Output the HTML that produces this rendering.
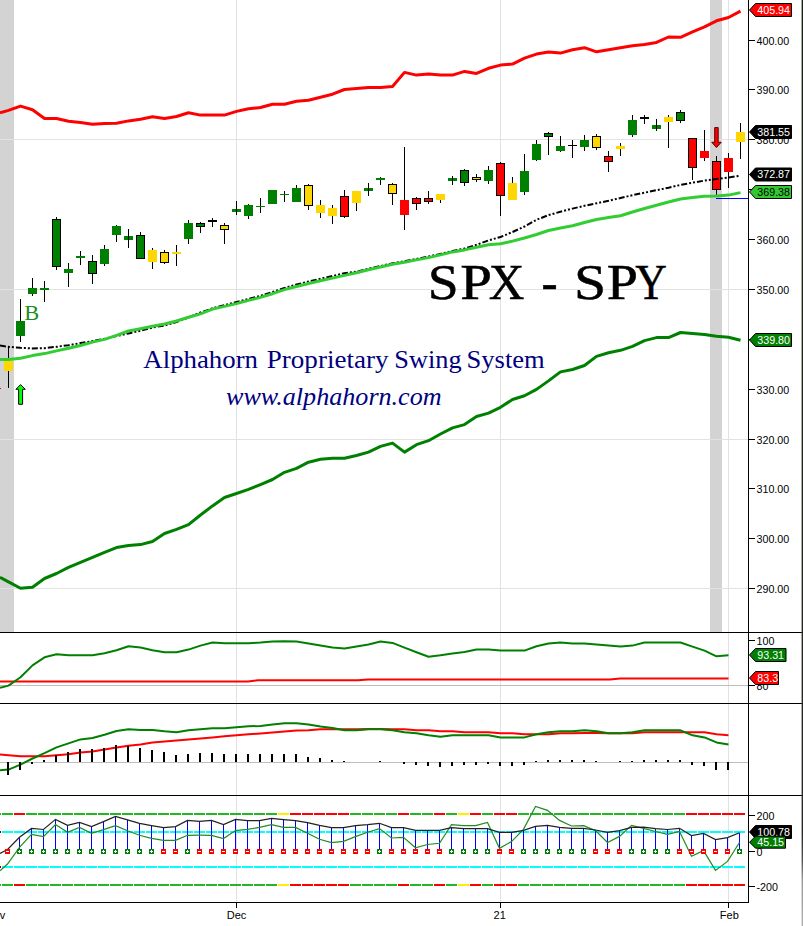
<!DOCTYPE html>
<html><head><meta charset="utf-8"><title>SPX - SPY</title>
<style>html,body{margin:0;padding:0;background:#fff;}body{width:803px;height:926px;overflow:hidden;font-family:"Liberation Sans",sans-serif;}</style></head>
<body>
<svg width="803" height="926" viewBox="0 0 803 926" style="display:block">
<rect x="0" y="0" width="803" height="926" fill="#fff"/>
<g shape-rendering="crispEdges">
<rect x="0" y="0" width="14" height="632" fill="#d3d3d3"/>
<rect x="710" y="0" width="12" height="632" fill="#d3d3d3"/>
<rect x="0" y="139" width="748" height="1" fill="#e2e2e2"/>
<rect x="0" y="289" width="748" height="1" fill="#e2e2e2"/>
<rect x="0" y="439" width="748" height="1" fill="#e2e2e2"/>
<rect x="0" y="588" width="748" height="1" fill="#e2e2e2"/>
<rect x="236" y="0" width="1" height="903" fill="#e2e2e2"/>
<rect x="500" y="0" width="1" height="903" fill="#e2e2e2"/>
<rect x="728" y="0" width="1" height="903" fill="#e2e2e2"/>
<rect x="0" y="685" width="748" height="1" fill="#bdbdbd"/>
<rect x="0" y="762" width="748" height="1" fill="#bdbdbd"/>
</g>
<g fill="none" stroke-linejoin="round" stroke-linecap="butt">
<polyline points="0.0,112.8 8.5,110.4 20.5,106.1 32.5,109.8 44.5,118.5 56.5,118.5 68.5,121.2 80.5,122.5 92.5,124.2 104.5,123.5 116.5,123.2 128.5,120.9 140.5,119.2 152.5,116.8 164.5,118.5 176.5,116.5 188.5,112.8 200.5,115.1 212.5,115.1 224.5,115.1 236.5,111.4 248.5,108.8 260.5,107.5 272.5,104.2 284.5,104.3 296.5,101.3 308.5,100.3 320.5,97.2 332.5,94.2 344.5,89.5 356.5,88.5 368.5,87.5 380.5,87.5 392.5,86.5 404.5,72.4 416.5,75.1 428.5,74.0 440.5,75.1 452.5,75.1 464.5,71.4 476.5,73.4 488.5,68.3 500.5,65.1 512.5,64.1 524.5,58.2 536.5,54.1 548.5,52.1 560.5,53.1 572.5,49.8 584.5,47.7 596.5,51.8 608.5,49.8 620.5,47.7 632.5,45.7 644.5,44.4 656.5,42.4 668.5,37.0 680.5,37.3 692.5,31.9 704.5,26.9 716.5,20.8 728.5,17.5 740.5,11.1" stroke="#ff0000" stroke-width="3"/>
<polyline points="0.0,577.2 8.5,581.9 20.5,588.3 32.5,587.3 44.5,578.5 56.5,573.5 68.5,567.4 80.5,562.4 92.5,557.4 104.5,552.3 116.5,547.6 128.5,545.6 140.5,544.6 152.5,541.5 164.5,533.5 176.5,529.4 188.5,524.7 200.5,515.0 212.5,505.9 224.5,497.5 236.5,493.5 248.5,489.4 260.5,484.6 272.5,479.5 284.5,472.3 296.5,468.3 308.5,462.2 320.5,459.2 332.5,458.2 344.5,458.2 356.5,455.5 368.5,452.1 380.5,446.4 392.5,443.1 404.5,452.1 416.5,444.7 428.5,440.7 440.5,434.0 452.5,427.9 464.5,424.6 476.5,416.5 488.5,413.1 500.5,407.3 512.5,399.5 524.5,395.8 536.5,389.4 548.5,380.9 560.5,371.9 572.5,369.5 584.5,365.5 596.5,356.4 608.5,352.7 620.5,350.3 632.5,346.3 644.5,340.6 656.5,337.6 668.5,337.6 680.5,332.5 692.5,333.5 704.5,334.5 716.5,336.2 728.5,337.2 740.5,340.3" stroke="#008000" stroke-width="3"/>
</g>
<g shape-rendering="crispEdges">
<rect x="8" y="347.0" width="1" height="41.0" fill="#000"/>
<rect x="4" y="361.0" width="9" height="10.0" fill="#ffd700"/>
<rect x="20" y="299.0" width="1" height="42.5" fill="#000"/>
<rect x="16" y="321.0" width="9" height="15.0" fill="#008000"/>
<rect x="32" y="278.0" width="1" height="18.0" fill="#000"/>
<rect x="28" y="288.0" width="9" height="5.5" fill="#008000"/>
<rect x="44" y="281.0" width="1" height="20.5" fill="#000"/>
<rect x="40" y="288.0" width="9" height="2" fill="#008000"/>
<rect x="56" y="217.0" width="1" height="52.5" fill="#000"/>
<rect x="52.5" y="219.3" width="8" height="46.7" fill="#008000" stroke="#000" stroke-width="1"/>
<rect x="68" y="263.0" width="1" height="23.7" fill="#000"/>
<rect x="64" y="269.0" width="9" height="4.0" fill="#008000"/>
<rect x="80" y="251.0" width="1" height="14.0" fill="#000"/>
<rect x="76" y="255.8" width="9" height="2" fill="#008000"/>
<rect x="92" y="255.3" width="1" height="28.4" fill="#000"/>
<rect x="88.5" y="261.8" width="8" height="11.4" fill="#008000" stroke="#000" stroke-width="1"/>
<rect x="104" y="245.0" width="1" height="21.0" fill="#000"/>
<rect x="100" y="249.0" width="9" height="14.8" fill="#008000"/>
<rect x="116" y="225.2" width="1" height="16.6" fill="#000"/>
<rect x="112" y="226.0" width="9" height="9.0" fill="#008000"/>
<rect x="128" y="229.0" width="1" height="18.8" fill="#000"/>
<rect x="124" y="236.4" width="9" height="3.2" fill="#008000"/>
<rect x="128" y="229.0" width="1" height="18.8" fill="#000"/>
<rect x="140" y="232.0" width="1" height="27.3" fill="#000"/>
<rect x="136.5" y="235.5" width="8" height="23.0" fill="#008000" stroke="#000" stroke-width="1"/>
<rect x="152" y="247.8" width="1" height="20.9" fill="#000"/>
<rect x="148" y="250.3" width="9" height="11.2" fill="#ffd700"/>
<rect x="164" y="249.8" width="1" height="14.2" fill="#000"/>
<rect x="160.5" y="252.3" width="8" height="10.2" fill="#ffd700" stroke="#000" stroke-width="1"/>
<rect x="176" y="245.0" width="1" height="20.8" fill="#000"/>
<rect x="172" y="251.8" width="9" height="2" fill="#ffd700"/>
<rect x="188" y="219.9" width="1" height="23.9" fill="#000"/>
<rect x="184" y="223.2" width="9" height="15.4" fill="#008000"/>
<rect x="200" y="222.0" width="1" height="10.6" fill="#000"/>
<rect x="196.5" y="223.5" width="8" height="3.0" fill="#008000" stroke="#000" stroke-width="1"/>
<rect x="212" y="217.7" width="1" height="8.9" fill="#000"/>
<rect x="208" y="220.2" width="9" height="2" fill="#000"/>
<rect x="224" y="223.4" width="1" height="20.4" fill="#000"/>
<rect x="220.5" y="225.9" width="8" height="3.2" fill="#ffd700" stroke="#000" stroke-width="1"/>
<rect x="236" y="201.0" width="1" height="13.7" fill="#000"/>
<rect x="232" y="209.0" width="9" height="2.7" fill="#008000"/>
<rect x="236" y="201.0" width="1" height="13.7" fill="#000"/>
<rect x="248" y="203.7" width="1" height="15.0" fill="#000"/>
<rect x="244" y="205.2" width="9" height="10.5" fill="#008000"/>
<rect x="260" y="197.7" width="1" height="15.2" fill="#000"/>
<rect x="256" y="205.7" width="9" height="1" fill="#008000"/>
<rect x="272" y="190.0" width="1" height="13.7" fill="#000"/>
<rect x="268" y="190.0" width="9" height="13.7" fill="#008000"/>
<rect x="284" y="190.5" width="1" height="11.0" fill="#000"/>
<rect x="280" y="194.3" width="9" height="1" fill="#008000"/>
<rect x="296" y="185.3" width="1" height="16.4" fill="#000"/>
<rect x="292" y="188.3" width="9" height="13.4" fill="#008000"/>
<rect x="308" y="184.0" width="1" height="25.8" fill="#000"/>
<rect x="304.5" y="185.5" width="8" height="20.0" fill="#ffd700" stroke="#000" stroke-width="1"/>
<rect x="320" y="200.0" width="1" height="17.8" fill="#000"/>
<rect x="316" y="205.0" width="9" height="8.0" fill="#ffd700"/>
<rect x="332" y="205.0" width="1" height="18.8" fill="#000"/>
<rect x="328" y="208.0" width="9" height="8.0" fill="#ffd700"/>
<rect x="344" y="190.0" width="1" height="28.0" fill="#000"/>
<rect x="340.5" y="196.5" width="8" height="20.0" fill="#ff0000" stroke="#000" stroke-width="1"/>
<rect x="356" y="191.0" width="1" height="19.8" fill="#000"/>
<rect x="352" y="191.0" width="9" height="12.0" fill="#ffd700"/>
<rect x="368" y="183.0" width="1" height="13.0" fill="#000"/>
<rect x="364" y="188.0" width="9" height="3.0" fill="#008000"/>
<rect x="368" y="183.0" width="1" height="13.0" fill="#000"/>
<rect x="380" y="176.8" width="1" height="8.0" fill="#000"/>
<rect x="376" y="177.8" width="9" height="2" fill="#008000"/>
<rect x="392" y="182.7" width="1" height="21.9" fill="#000"/>
<rect x="388.5" y="184.7" width="8" height="8.4" fill="#ffd700" stroke="#000" stroke-width="1"/>
<rect x="404" y="146.8" width="1" height="82.7" fill="#000"/>
<rect x="400" y="200.1" width="9" height="14.5" fill="#ff0000"/>
<rect x="416" y="197.0" width="1" height="12.6" fill="#000"/>
<rect x="412.5" y="198.5" width="8" height="5.2" fill="#ff0000" stroke="#000" stroke-width="1"/>
<rect x="428" y="191.2" width="1" height="12.4" fill="#000"/>
<rect x="424.5" y="198.7" width="8" height="2.6" fill="#ff0000" stroke="#000" stroke-width="1"/>
<rect x="440" y="194.1" width="1" height="8.5" fill="#000"/>
<rect x="436" y="194.1" width="9" height="5.5" fill="#ffd700"/>
<rect x="452" y="176.0" width="1" height="8.7" fill="#000"/>
<rect x="448" y="178.2" width="9" height="2.5" fill="#008000"/>
<rect x="452" y="176.0" width="1" height="8.7" fill="#000"/>
<rect x="464" y="169.0" width="1" height="16.7" fill="#000"/>
<rect x="460.5" y="170.5" width="8" height="11.8" fill="#008000" stroke="#000" stroke-width="1"/>
<rect x="476" y="174.0" width="1" height="7.7" fill="#000"/>
<rect x="472.5" y="177.5" width="8" height="2.0" fill="#ffd700" stroke="#000" stroke-width="1"/>
<rect x="488" y="166.3" width="1" height="17.4" fill="#000"/>
<rect x="484" y="170.2" width="9" height="10.5" fill="#008000"/>
<rect x="500" y="162.0" width="1" height="53.6" fill="#000"/>
<rect x="496.5" y="163.3" width="8" height="32.2" fill="#ff0000" stroke="#000" stroke-width="1"/>
<rect x="512" y="177.2" width="1" height="22.4" fill="#000"/>
<rect x="508" y="183.2" width="9" height="16.4" fill="#ffd700"/>
<rect x="524" y="154.0" width="1" height="40.6" fill="#000"/>
<rect x="520" y="171.2" width="9" height="20.5" fill="#008000"/>
<rect x="536" y="139.9" width="1" height="20.9" fill="#000"/>
<rect x="532" y="144.3" width="9" height="15.2" fill="#008000"/>
<rect x="548" y="131.9" width="1" height="22.9" fill="#000"/>
<rect x="544.5" y="133.6" width="8" height="2.5" fill="#008000" stroke="#000" stroke-width="1"/>
<rect x="560" y="136.4" width="1" height="15.4" fill="#000"/>
<rect x="556" y="146.3" width="9" height="4.3" fill="#008000"/>
<rect x="572" y="140.0" width="1" height="17.7" fill="#000"/>
<rect x="568" y="145.0" width="9" height="1" fill="#000"/>
<rect x="584" y="135.3" width="1" height="15.4" fill="#000"/>
<rect x="580" y="140.3" width="9" height="6.4" fill="#008000"/>
<rect x="596" y="133.5" width="1" height="16.2" fill="#000"/>
<rect x="592.5" y="136.5" width="8" height="10.7" fill="#ffd700" stroke="#000" stroke-width="1"/>
<rect x="608" y="151.0" width="1" height="20.7" fill="#000"/>
<rect x="604.5" y="156.7" width="8" height="5.0" fill="#ff0000" stroke="#000" stroke-width="1"/>
<rect x="620" y="142.8" width="1" height="12.9" fill="#000"/>
<rect x="616" y="145.7" width="9" height="3" fill="#ffd700"/>
<rect x="632" y="114.9" width="1" height="21.9" fill="#000"/>
<rect x="628" y="119.9" width="9" height="14.9" fill="#008000"/>
<rect x="644" y="114.9" width="1" height="8.9" fill="#000"/>
<rect x="640" y="117.1" width="9" height="2" fill="#000"/>
<rect x="656" y="119.1" width="1" height="11.7" fill="#000"/>
<rect x="652" y="125.1" width="9" height="3.7" fill="#008000"/>
<rect x="656" y="119.1" width="1" height="11.7" fill="#000"/>
<rect x="668" y="114.9" width="1" height="32.8" fill="#000"/>
<rect x="664" y="117.1" width="9" height="4.7" fill="#ffd700"/>
<rect x="680" y="109.9" width="1" height="12.9" fill="#000"/>
<rect x="676.5" y="112.6" width="8" height="7.5" fill="#008000" stroke="#000" stroke-width="1"/>
<rect x="692" y="138.3" width="1" height="41.3" fill="#000"/>
<rect x="688.5" y="138.8" width="8" height="28.7" fill="#ff0000" stroke="#000" stroke-width="1"/>
<rect x="704" y="129.8" width="1" height="30.9" fill="#000"/>
<rect x="700" y="151.2" width="9" height="6.8" fill="#ff0000"/>
<rect x="716" y="156.2" width="1" height="38.9" fill="#000"/>
<rect x="712.5" y="161.9" width="8" height="27.2" fill="#ff0000" stroke="#000" stroke-width="1"/>
<rect x="728" y="152.7" width="1" height="34.9" fill="#000"/>
<rect x="724" y="158.2" width="9" height="13.5" fill="#ff0000"/>
<rect x="740" y="122.8" width="1" height="35.9" fill="#000"/>
<rect x="736" y="132.1" width="9" height="9.7" fill="#ffd700"/>
</g>
<polyline points="0.0,345.5 8.5,346.8 20.5,347.8 32.5,348.5 44.5,348.2 56.5,346.8 68.5,345.2 80.5,343.1 92.5,341.1 104.5,338.8 116.5,336.1 128.5,333.4 140.5,330.7 152.5,327.5 164.5,325.5 176.5,322.0 188.5,317.5 200.5,312.5 212.5,308.3 224.5,305.0 236.5,302.0 248.5,298.8 260.5,295.8 272.5,292.0 284.5,288.0 296.5,284.5 308.5,281.5 320.5,278.8 332.5,276.0 344.5,273.2 356.5,271.7 368.5,268.7 380.5,266.0 392.5,263.3 404.5,261.3 416.5,258.9 428.5,256.6 440.5,253.9 452.5,251.0 464.5,248.5 476.5,244.8 488.5,240.4 500.5,237.0 512.5,232.0 524.5,226.5 536.5,219.8 548.5,215.1 560.5,211.7 572.5,208.6 584.5,205.8 596.5,203.3 608.5,200.8 620.5,198.0 632.5,195.2 644.5,192.7 656.5,190.2 668.5,187.7 680.5,184.9 692.5,182.7 704.5,180.6 716.5,179.0 728.5,177.5 740.5,175.6" fill="none" stroke="#000" stroke-width="2" stroke-dasharray="6 2 2 2 2 2"/>
<polyline points="0.0,359.6 8.5,359.6 20.5,358.3 32.5,355.6 44.5,353.6 56.5,350.9 68.5,348.2 80.5,345.5 92.5,342.1 104.5,339.4 116.5,335.4 128.5,331.0 140.5,328.7 152.5,326.3 164.5,324.0 176.5,321.0 188.5,317.3 200.5,313.9 212.5,309.1 224.5,306.4 236.5,303.6 248.5,300.4 260.5,297.4 272.5,293.7 284.5,289.6 296.5,286.5 308.5,283.5 320.5,280.8 332.5,278.1 344.5,275.4 356.5,272.7 368.5,269.7 380.5,267.0 392.5,264.3 404.5,262.3 416.5,259.9 428.5,257.6 440.5,254.9 452.5,251.9 464.5,249.9 476.5,247.2 488.5,244.8 500.5,243.8 512.5,241.1 524.5,238.0 536.5,234.5 548.5,230.5 560.5,228.0 572.5,225.7 584.5,222.5 596.5,219.5 608.5,217.5 620.5,215.7 632.5,212.0 644.5,208.5 656.5,205.3 668.5,202.0 680.5,199.0 692.5,197.6 704.5,196.3 716.5,196.1 728.5,195.1 740.5,192.6" fill="none" stroke="#32cd32" stroke-width="3" stroke-linejoin="round" stroke-linecap="butt"/>
<rect x="716" y="198" width="32" height="1" fill="#0000ff" shape-rendering="crispEdges"/>
<rect x="0" y="388" width="1" height="1" fill="#ff0000"/>
<path d="M20.6 384.6 L25.3 389.3 L22.6 389.3 L22.6 404.3 L18.6 404.3 L18.6 389.3 L15.9 389.3 Z" fill="#00ff00" stroke="#1a001a" stroke-width="1"/>
<path d="M716.5 147.6 L711.8 142.3 L714.7 142.3 L714.7 127.6 L718.2 127.6 L718.2 142.3 L721.2 142.3 Z" fill="#ff0000" stroke="#5a0000" stroke-width="1"/>
<text x="427.68" y="299.3" font-family="Liberation Serif, serif" font-style="normal" font-size="50" textLength="30.94" lengthAdjust="spacingAndGlyphs" fill="#000" stroke="#000" stroke-width="0.5">S</text>
<text x="460.24" y="299.3" font-family="Liberation Serif, serif" font-style="normal" font-size="50" textLength="31.73" lengthAdjust="spacingAndGlyphs" fill="#000" stroke="#000" stroke-width="0.5">P</text>
<text x="488.79" y="299.3" font-family="Liberation Serif, serif" font-style="normal" font-size="50" textLength="35.61" lengthAdjust="spacingAndGlyphs" fill="#000" stroke="#000" stroke-width="0.5">X</text>
<text x="541.61" y="299.3" font-family="Liberation Serif, serif" font-style="normal" font-size="50" textLength="16.10" lengthAdjust="spacingAndGlyphs" fill="#000" stroke="#000" stroke-width="0.5">-</text>
<text x="573.96" y="299.3" font-family="Liberation Serif, serif" font-style="normal" font-size="50" textLength="32.13" lengthAdjust="spacingAndGlyphs" fill="#000" stroke="#000" stroke-width="0.5">S</text>
<text x="606.81" y="299.3" font-family="Liberation Serif, serif" font-style="normal" font-size="50" textLength="31.21" lengthAdjust="spacingAndGlyphs" fill="#000" stroke="#000" stroke-width="0.5">P</text>
<text x="635.22" y="299.3" font-family="Liberation Serif, serif" font-style="normal" font-size="50" textLength="31.51" lengthAdjust="spacingAndGlyphs" fill="#000" stroke="#000" stroke-width="0.5">Y</text>
<text x="143.36" y="368.3" font-family="Liberation Serif, serif" font-style="normal" font-size="25.5" textLength="114.63" lengthAdjust="spacingAndGlyphs" fill="#000080" >Alphahorn</text>
<text x="266.78" y="368.3" font-family="Liberation Serif, serif" font-style="normal" font-size="25.5" textLength="121.77" lengthAdjust="spacingAndGlyphs" fill="#000080" >Proprietary</text>
<text x="394.34" y="368.3" font-family="Liberation Serif, serif" font-style="normal" font-size="25.5" textLength="67.25" lengthAdjust="spacingAndGlyphs" fill="#000080" >Swing</text>
<text x="466.56" y="368.3" font-family="Liberation Serif, serif" font-style="normal" font-size="25.5" textLength="78.15" lengthAdjust="spacingAndGlyphs" fill="#000080" >System</text>
<text x="225.98" y="404.8" font-family="Liberation Serif, serif" font-style="italic" font-size="25.5" textLength="215.65" lengthAdjust="spacingAndGlyphs" fill="#000080" >www.alphahorn.com</text>
<text x="24.3" y="320" font-family="Liberation Serif, serif" font-size="21" fill="#1e8c1e" id="t4" textLength="15" lengthAdjust="spacingAndGlyphs">B</text>
<g fill="none" stroke-linejoin="round">
<polyline points="0,681.5 248,681.5 258,680.3 358,680.3 368,679.5 610,679.5 620,678.5 728.5,678.5" stroke="#ff0000" stroke-width="2"/>
<polyline points="0.0,687.9 8.5,685.6 20.5,677.2 32.5,665.4 44.5,657.3 56.5,654.3 68.5,655.3 80.5,655.3 92.5,655.3 104.5,653.3 116.5,650.3 128.5,646.2 140.5,647.6 152.5,650.3 164.5,652.3 176.5,652.3 188.5,649.6 200.5,645.6 212.5,642.5 224.5,643.2 236.5,643.2 248.5,643.2 260.5,642.5 272.5,641.5 284.5,641.2 296.5,641.5 308.5,643.5 320.5,645.6 332.5,647.6 344.5,648.6 356.5,646.6 368.5,644.5 380.5,641.5 392.5,642.9 404.5,647.6 416.5,652.3 428.5,656.7 440.5,655.3 452.5,653.6 464.5,651.9 476.5,649.6 488.5,649.6 500.5,650.6 512.5,650.6 524.5,650.6 536.5,646.2 548.5,643.5 560.5,642.5 572.5,643.5 584.5,643.5 596.5,644.5 608.5,645.6 620.5,646.6 632.5,645.6 644.5,642.5 656.5,642.5 668.5,642.5 680.5,642.5 692.5,646.6 704.5,650.6 716.5,656.3 728.5,655.3" stroke="#008000" stroke-width="2"/>
<polyline points="0.0,754.5 8.5,755.2 20.5,756.2 32.5,756.2 44.5,756.2 56.5,755.2 68.5,754.2 80.5,752.5 92.5,751.5 104.5,749.5 116.5,747.4 128.5,745.8 140.5,744.4 152.5,742.4 164.5,741.4 176.5,740.4 188.5,739.4 200.5,738.4 212.5,737.4 224.5,736.3 236.5,735.3 248.5,734.3 260.5,733.5 272.5,732.5 284.5,731.6 296.5,730.6 308.5,730.3 320.5,729.3 332.5,729.3 344.5,729.3 356.5,729.3 368.5,728.9 380.5,728.9 392.5,729.3 404.5,729.3 416.5,730.3 428.5,730.3 440.5,731.3 452.5,731.3 464.5,732.3 476.5,732.3 488.5,732.3 500.5,733.3 512.5,733.3 524.5,734.3 536.5,734.3 548.5,734.3 560.5,733.3 572.5,733.3 584.5,733.0 596.5,733.0 608.5,733.3 620.5,733.3 632.5,733.3 644.5,732.3 656.5,732.3 668.5,732.3 680.5,732.3 692.5,732.3 704.5,732.3 716.5,734.3 728.5,735.3" stroke="#ff0000" stroke-width="2"/>
<polyline points="0.0,770.3 8.5,769.6 20.5,764.6 32.5,758.5 44.5,753.2 56.5,747.4 68.5,743.4 80.5,739.4 92.5,738.0 104.5,734.7 116.5,731.0 128.5,729.3 140.5,730.0 152.5,730.0 164.5,731.3 176.5,732.3 188.5,730.3 200.5,729.3 212.5,728.3 224.5,728.3 236.5,727.3 248.5,726.3 260.5,726.0 272.5,724.6 284.5,723.2 296.5,723.2 308.5,724.6 320.5,726.6 332.5,727.9 344.5,730.3 356.5,730.3 368.5,729.3 380.5,729.3 392.5,730.3 404.5,732.3 416.5,733.3 428.5,735.3 440.5,736.7 452.5,735.3 464.5,735.3 476.5,735.3 488.5,735.3 500.5,737.4 512.5,737.4 524.5,737.4 536.5,734.3 548.5,732.3 560.5,731.3 572.5,731.3 584.5,730.3 596.5,731.3 608.5,733.3 620.5,733.3 632.5,732.3 644.5,730.3 656.5,730.3 668.5,730.3 680.5,730.3 692.5,735.3 704.5,737.4 716.5,742.4 728.5,744.4" stroke="#008000" stroke-width="2"/>
</g>
<g shape-rendering="crispEdges" fill="#000">
<rect x="7" y="762.2" width="2" height="13.1"/>
<rect x="19" y="762.2" width="2" height="7.4"/>
<rect x="31" y="762.2" width="2" height="1.7"/>
<rect x="43" y="759.5" width="2" height="2.7"/>
<rect x="55" y="754.5" width="2" height="7.7"/>
<rect x="67" y="752.1" width="2" height="10.1"/>
<rect x="79" y="749.1" width="2" height="13.1"/>
<rect x="91" y="749.1" width="2" height="13.1"/>
<rect x="103" y="748.1" width="2" height="14.1"/>
<rect x="115" y="745.4" width="2" height="16.8"/>
<rect x="127" y="746.1" width="2" height="16.1"/>
<rect x="139" y="748.1" width="2" height="14.1"/>
<rect x="151" y="749.5" width="2" height="12.7"/>
<rect x="163" y="752.1" width="2" height="10.1"/>
<rect x="175" y="754.5" width="2" height="7.7"/>
<rect x="187" y="753.5" width="2" height="8.7"/>
<rect x="199" y="753.2" width="2" height="9.0"/>
<rect x="211" y="753.2" width="2" height="9.0"/>
<rect x="223" y="754.2" width="2" height="8.0"/>
<rect x="235" y="754.2" width="2" height="8.0"/>
<rect x="247" y="754.2" width="2" height="8.0"/>
<rect x="259" y="754.2" width="2" height="8.0"/>
<rect x="271" y="754.2" width="2" height="8.0"/>
<rect x="283" y="754.2" width="2" height="8.0"/>
<rect x="295" y="754.2" width="2" height="8.0"/>
<rect x="307" y="757.2" width="2" height="5.0"/>
<rect x="319" y="758.2" width="2" height="4.0"/>
<rect x="331" y="760.2" width="2" height="2.0"/>
<rect x="343" y="761.4" width="2" height="1.0"/>
<rect x="379" y="761.2" width="2" height="1.0"/>
<rect x="403" y="762.2" width="2" height="1.7"/>
<rect x="415" y="762.2" width="2" height="2.7"/>
<rect x="427" y="762.2" width="2" height="3.4"/>
<rect x="439" y="762.2" width="2" height="4.7"/>
<rect x="451" y="762.2" width="2" height="3.4"/>
<rect x="463" y="762.2" width="2" height="2.7"/>
<rect x="475" y="762.2" width="2" height="2.4"/>
<rect x="487" y="762.2" width="2" height="1.7"/>
<rect x="499" y="762.2" width="2" height="3.4"/>
<rect x="511" y="762.2" width="2" height="3.4"/>
<rect x="523" y="762.2" width="2" height="2.4"/>
<rect x="535" y="761.4" width="2" height="1.0"/>
<rect x="547" y="760.2" width="2" height="2.0"/>
<rect x="559" y="760.2" width="2" height="2.0"/>
<rect x="571" y="760.2" width="2" height="2.0"/>
<rect x="583" y="760.2" width="2" height="2.0"/>
<rect x="595" y="760.5" width="2" height="1.7"/>
<rect x="619" y="761.4" width="2" height="1.0"/>
<rect x="631" y="760.9" width="2" height="1.3"/>
<rect x="643" y="760.2" width="2" height="2.0"/>
<rect x="655" y="760.2" width="2" height="2.0"/>
<rect x="667" y="760.2" width="2" height="2.0"/>
<rect x="679" y="760.2" width="2" height="2.0"/>
<rect x="691" y="762.2" width="2" height="2.4"/>
<rect x="703" y="762.2" width="2" height="3.4"/>
<rect x="715" y="762.2" width="2" height="8.1"/>
<rect x="727" y="762.2" width="2" height="8.1"/>
</g>
<g shape-rendering="crispEdges">
<rect x="-10" y="813" width="11" height="2" fill="#22b822"/>
<rect x="-10" y="884" width="11" height="2" fill="#22b822"/>
<rect x="-10" y="831" width="11" height="2" fill="#800000"/>
<rect x="-10" y="866" width="11" height="2" fill="#800000"/>
<rect x="2" y="813" width="11" height="2" fill="#22b822"/>
<rect x="2" y="884" width="11" height="2" fill="#22b822"/>
<rect x="2" y="831" width="11" height="2" fill="#00ffff"/>
<rect x="2" y="866" width="11" height="2" fill="#00ffff"/>
<rect x="14" y="813" width="11" height="2" fill="#ff0000"/>
<rect x="14" y="884" width="11" height="2" fill="#ff0000"/>
<rect x="14" y="831" width="11" height="2" fill="#00ffff"/>
<rect x="14" y="866" width="11" height="2" fill="#00ffff"/>
<rect x="26" y="813" width="11" height="2" fill="#22b822"/>
<rect x="26" y="884" width="11" height="2" fill="#22b822"/>
<rect x="26" y="831" width="11" height="2" fill="#00ffff"/>
<rect x="26" y="866" width="11" height="2" fill="#00ffff"/>
<rect x="38" y="813" width="11" height="2" fill="#22b822"/>
<rect x="38" y="884" width="11" height="2" fill="#22b822"/>
<rect x="38" y="831" width="11" height="2" fill="#00ffff"/>
<rect x="38" y="866" width="11" height="2" fill="#00ffff"/>
<rect x="50" y="813" width="11" height="2" fill="#22b822"/>
<rect x="50" y="884" width="11" height="2" fill="#22b822"/>
<rect x="50" y="831" width="11" height="2" fill="#00ffff"/>
<rect x="50" y="866" width="11" height="2" fill="#00ffff"/>
<rect x="62" y="813" width="11" height="2" fill="#22b822"/>
<rect x="62" y="884" width="11" height="2" fill="#22b822"/>
<rect x="62" y="831" width="11" height="2" fill="#00ffff"/>
<rect x="62" y="866" width="11" height="2" fill="#00ffff"/>
<rect x="74" y="813" width="11" height="2" fill="#22b822"/>
<rect x="74" y="884" width="11" height="2" fill="#22b822"/>
<rect x="74" y="831" width="11" height="2" fill="#00ffff"/>
<rect x="74" y="866" width="11" height="2" fill="#00ffff"/>
<rect x="86" y="813" width="11" height="2" fill="#22b822"/>
<rect x="86" y="884" width="11" height="2" fill="#22b822"/>
<rect x="86" y="831" width="11" height="2" fill="#00ffff"/>
<rect x="86" y="866" width="11" height="2" fill="#00ffff"/>
<rect x="98" y="813" width="11" height="2" fill="#22b822"/>
<rect x="98" y="884" width="11" height="2" fill="#22b822"/>
<rect x="98" y="831" width="11" height="2" fill="#00ffff"/>
<rect x="98" y="866" width="11" height="2" fill="#00ffff"/>
<rect x="110" y="813" width="11" height="2" fill="#22b822"/>
<rect x="110" y="884" width="11" height="2" fill="#22b822"/>
<rect x="110" y="831" width="11" height="2" fill="#00ffff"/>
<rect x="110" y="866" width="11" height="2" fill="#00ffff"/>
<rect x="122" y="813" width="11" height="2" fill="#22b822"/>
<rect x="122" y="884" width="11" height="2" fill="#22b822"/>
<rect x="122" y="831" width="11" height="2" fill="#00ffff"/>
<rect x="122" y="866" width="11" height="2" fill="#00ffff"/>
<rect x="134" y="813" width="11" height="2" fill="#22b822"/>
<rect x="134" y="884" width="11" height="2" fill="#22b822"/>
<rect x="134" y="831" width="11" height="2" fill="#00ffff"/>
<rect x="134" y="866" width="11" height="2" fill="#00ffff"/>
<rect x="146" y="813" width="11" height="2" fill="#22b822"/>
<rect x="146" y="884" width="11" height="2" fill="#22b822"/>
<rect x="146" y="831" width="11" height="2" fill="#00ffff"/>
<rect x="146" y="866" width="11" height="2" fill="#00ffff"/>
<rect x="158" y="813" width="11" height="2" fill="#22b822"/>
<rect x="158" y="884" width="11" height="2" fill="#22b822"/>
<rect x="158" y="831" width="11" height="2" fill="#00ffff"/>
<rect x="158" y="866" width="11" height="2" fill="#00ffff"/>
<rect x="170" y="813" width="11" height="2" fill="#22b822"/>
<rect x="170" y="884" width="11" height="2" fill="#22b822"/>
<rect x="170" y="831" width="11" height="2" fill="#00ffff"/>
<rect x="170" y="866" width="11" height="2" fill="#00ffff"/>
<rect x="182" y="813" width="11" height="2" fill="#22b822"/>
<rect x="182" y="884" width="11" height="2" fill="#22b822"/>
<rect x="182" y="831" width="11" height="2" fill="#00ffff"/>
<rect x="182" y="866" width="11" height="2" fill="#00ffff"/>
<rect x="194" y="813" width="11" height="2" fill="#22b822"/>
<rect x="194" y="884" width="11" height="2" fill="#22b822"/>
<rect x="194" y="831" width="11" height="2" fill="#00ffff"/>
<rect x="194" y="866" width="11" height="2" fill="#00ffff"/>
<rect x="206" y="813" width="11" height="2" fill="#22b822"/>
<rect x="206" y="884" width="11" height="2" fill="#22b822"/>
<rect x="206" y="831" width="11" height="2" fill="#00ffff"/>
<rect x="206" y="866" width="11" height="2" fill="#00ffff"/>
<rect x="218" y="813" width="11" height="2" fill="#22b822"/>
<rect x="218" y="884" width="11" height="2" fill="#22b822"/>
<rect x="218" y="831" width="11" height="2" fill="#00ffff"/>
<rect x="218" y="866" width="11" height="2" fill="#00ffff"/>
<rect x="230" y="813" width="11" height="2" fill="#22b822"/>
<rect x="230" y="884" width="11" height="2" fill="#22b822"/>
<rect x="230" y="831" width="11" height="2" fill="#00ffff"/>
<rect x="230" y="866" width="11" height="2" fill="#00ffff"/>
<rect x="242" y="813" width="11" height="2" fill="#22b822"/>
<rect x="242" y="884" width="11" height="2" fill="#22b822"/>
<rect x="242" y="831" width="11" height="2" fill="#00ffff"/>
<rect x="242" y="866" width="11" height="2" fill="#00ffff"/>
<rect x="254" y="813" width="11" height="2" fill="#22b822"/>
<rect x="254" y="884" width="11" height="2" fill="#22b822"/>
<rect x="254" y="831" width="11" height="2" fill="#00ffff"/>
<rect x="254" y="866" width="11" height="2" fill="#00ffff"/>
<rect x="266" y="813" width="11" height="2" fill="#22b822"/>
<rect x="266" y="884" width="11" height="2" fill="#22b822"/>
<rect x="266" y="831" width="11" height="2" fill="#00ffff"/>
<rect x="266" y="866" width="11" height="2" fill="#00ffff"/>
<rect x="278" y="813" width="11" height="2" fill="#fff000"/>
<rect x="278" y="884" width="11" height="2" fill="#fff000"/>
<rect x="278" y="831" width="11" height="2" fill="#00ffff"/>
<rect x="278" y="866" width="11" height="2" fill="#00ffff"/>
<rect x="290" y="813" width="11" height="2" fill="#ff0000"/>
<rect x="290" y="884" width="11" height="2" fill="#ff0000"/>
<rect x="290" y="831" width="11" height="2" fill="#00ffff"/>
<rect x="290" y="866" width="11" height="2" fill="#00ffff"/>
<rect x="302" y="813" width="11" height="2" fill="#ff0000"/>
<rect x="302" y="884" width="11" height="2" fill="#ff0000"/>
<rect x="302" y="831" width="11" height="2" fill="#00ffff"/>
<rect x="302" y="866" width="11" height="2" fill="#00ffff"/>
<rect x="314" y="813" width="11" height="2" fill="#ff0000"/>
<rect x="314" y="884" width="11" height="2" fill="#ff0000"/>
<rect x="314" y="831" width="11" height="2" fill="#00ffff"/>
<rect x="314" y="866" width="11" height="2" fill="#00ffff"/>
<rect x="326" y="813" width="11" height="2" fill="#ff0000"/>
<rect x="326" y="884" width="11" height="2" fill="#ff0000"/>
<rect x="326" y="831" width="11" height="2" fill="#00ffff"/>
<rect x="326" y="866" width="11" height="2" fill="#00ffff"/>
<rect x="338" y="813" width="11" height="2" fill="#ff0000"/>
<rect x="338" y="884" width="11" height="2" fill="#ff0000"/>
<rect x="338" y="831" width="11" height="2" fill="#00ffff"/>
<rect x="338" y="866" width="11" height="2" fill="#00ffff"/>
<rect x="350" y="813" width="11" height="2" fill="#22b822"/>
<rect x="350" y="884" width="11" height="2" fill="#22b822"/>
<rect x="350" y="831" width="11" height="2" fill="#00ffff"/>
<rect x="350" y="866" width="11" height="2" fill="#00ffff"/>
<rect x="362" y="813" width="11" height="2" fill="#22b822"/>
<rect x="362" y="884" width="11" height="2" fill="#22b822"/>
<rect x="362" y="831" width="11" height="2" fill="#00ffff"/>
<rect x="362" y="866" width="11" height="2" fill="#00ffff"/>
<rect x="374" y="813" width="11" height="2" fill="#22b822"/>
<rect x="374" y="884" width="11" height="2" fill="#22b822"/>
<rect x="374" y="831" width="11" height="2" fill="#00ffff"/>
<rect x="374" y="866" width="11" height="2" fill="#00ffff"/>
<rect x="386" y="813" width="11" height="2" fill="#22b822"/>
<rect x="386" y="884" width="11" height="2" fill="#22b822"/>
<rect x="386" y="831" width="11" height="2" fill="#00ffff"/>
<rect x="386" y="866" width="11" height="2" fill="#00ffff"/>
<rect x="398" y="813" width="11" height="2" fill="#ff0000"/>
<rect x="398" y="884" width="11" height="2" fill="#ff0000"/>
<rect x="398" y="831" width="11" height="2" fill="#00ffff"/>
<rect x="398" y="866" width="11" height="2" fill="#00ffff"/>
<rect x="410" y="813" width="11" height="2" fill="#22b822"/>
<rect x="410" y="884" width="11" height="2" fill="#22b822"/>
<rect x="410" y="831" width="11" height="2" fill="#00ffff"/>
<rect x="410" y="866" width="11" height="2" fill="#00ffff"/>
<rect x="422" y="813" width="11" height="2" fill="#22b822"/>
<rect x="422" y="884" width="11" height="2" fill="#22b822"/>
<rect x="422" y="831" width="11" height="2" fill="#00ffff"/>
<rect x="422" y="866" width="11" height="2" fill="#00ffff"/>
<rect x="434" y="813" width="11" height="2" fill="#ff0000"/>
<rect x="434" y="884" width="11" height="2" fill="#ff0000"/>
<rect x="434" y="831" width="11" height="2" fill="#00ffff"/>
<rect x="434" y="866" width="11" height="2" fill="#00ffff"/>
<rect x="446" y="813" width="11" height="2" fill="#22b822"/>
<rect x="446" y="884" width="11" height="2" fill="#22b822"/>
<rect x="446" y="831" width="11" height="2" fill="#00ffff"/>
<rect x="446" y="866" width="11" height="2" fill="#00ffff"/>
<rect x="458" y="813" width="11" height="2" fill="#fff000"/>
<rect x="458" y="884" width="11" height="2" fill="#fff000"/>
<rect x="458" y="831" width="11" height="2" fill="#00ffff"/>
<rect x="458" y="866" width="11" height="2" fill="#00ffff"/>
<rect x="470" y="813" width="11" height="2" fill="#ff0000"/>
<rect x="470" y="884" width="11" height="2" fill="#ff0000"/>
<rect x="470" y="831" width="11" height="2" fill="#00ffff"/>
<rect x="470" y="866" width="11" height="2" fill="#00ffff"/>
<rect x="482" y="813" width="11" height="2" fill="#22b822"/>
<rect x="482" y="884" width="11" height="2" fill="#22b822"/>
<rect x="482" y="831" width="11" height="2" fill="#00ffff"/>
<rect x="482" y="866" width="11" height="2" fill="#00ffff"/>
<rect x="494" y="813" width="11" height="2" fill="#ff0000"/>
<rect x="494" y="884" width="11" height="2" fill="#ff0000"/>
<rect x="494" y="831" width="11" height="2" fill="#00ffff"/>
<rect x="494" y="866" width="11" height="2" fill="#00ffff"/>
<rect x="506" y="813" width="11" height="2" fill="#ff0000"/>
<rect x="506" y="884" width="11" height="2" fill="#ff0000"/>
<rect x="506" y="831" width="11" height="2" fill="#00ffff"/>
<rect x="506" y="866" width="11" height="2" fill="#00ffff"/>
<rect x="518" y="813" width="11" height="2" fill="#22b822"/>
<rect x="518" y="884" width="11" height="2" fill="#22b822"/>
<rect x="518" y="831" width="11" height="2" fill="#00ffff"/>
<rect x="518" y="866" width="11" height="2" fill="#00ffff"/>
<rect x="530" y="813" width="11" height="2" fill="#22b822"/>
<rect x="530" y="884" width="11" height="2" fill="#22b822"/>
<rect x="530" y="831" width="11" height="2" fill="#00ffff"/>
<rect x="530" y="866" width="11" height="2" fill="#00ffff"/>
<rect x="542" y="813" width="11" height="2" fill="#22b822"/>
<rect x="542" y="884" width="11" height="2" fill="#22b822"/>
<rect x="542" y="831" width="11" height="2" fill="#00ffff"/>
<rect x="542" y="866" width="11" height="2" fill="#00ffff"/>
<rect x="554" y="813" width="11" height="2" fill="#22b822"/>
<rect x="554" y="884" width="11" height="2" fill="#22b822"/>
<rect x="554" y="831" width="11" height="2" fill="#00ffff"/>
<rect x="554" y="866" width="11" height="2" fill="#00ffff"/>
<rect x="566" y="813" width="11" height="2" fill="#22b822"/>
<rect x="566" y="884" width="11" height="2" fill="#22b822"/>
<rect x="566" y="831" width="11" height="2" fill="#00ffff"/>
<rect x="566" y="866" width="11" height="2" fill="#00ffff"/>
<rect x="578" y="813" width="11" height="2" fill="#22b822"/>
<rect x="578" y="884" width="11" height="2" fill="#22b822"/>
<rect x="578" y="831" width="11" height="2" fill="#00ffff"/>
<rect x="578" y="866" width="11" height="2" fill="#00ffff"/>
<rect x="590" y="813" width="11" height="2" fill="#22b822"/>
<rect x="590" y="884" width="11" height="2" fill="#22b822"/>
<rect x="590" y="831" width="11" height="2" fill="#00ffff"/>
<rect x="590" y="866" width="11" height="2" fill="#00ffff"/>
<rect x="602" y="813" width="11" height="2" fill="#22b822"/>
<rect x="602" y="884" width="11" height="2" fill="#22b822"/>
<rect x="602" y="831" width="11" height="2" fill="#00ffff"/>
<rect x="602" y="866" width="11" height="2" fill="#00ffff"/>
<rect x="614" y="813" width="11" height="2" fill="#22b822"/>
<rect x="614" y="884" width="11" height="2" fill="#22b822"/>
<rect x="614" y="831" width="11" height="2" fill="#00ffff"/>
<rect x="614" y="866" width="11" height="2" fill="#00ffff"/>
<rect x="626" y="813" width="11" height="2" fill="#22b822"/>
<rect x="626" y="884" width="11" height="2" fill="#22b822"/>
<rect x="626" y="831" width="11" height="2" fill="#00ffff"/>
<rect x="626" y="866" width="11" height="2" fill="#00ffff"/>
<rect x="638" y="813" width="11" height="2" fill="#22b822"/>
<rect x="638" y="884" width="11" height="2" fill="#22b822"/>
<rect x="638" y="831" width="11" height="2" fill="#00ffff"/>
<rect x="638" y="866" width="11" height="2" fill="#00ffff"/>
<rect x="650" y="813" width="11" height="2" fill="#22b822"/>
<rect x="650" y="884" width="11" height="2" fill="#22b822"/>
<rect x="650" y="831" width="11" height="2" fill="#00ffff"/>
<rect x="650" y="866" width="11" height="2" fill="#00ffff"/>
<rect x="662" y="813" width="11" height="2" fill="#22b822"/>
<rect x="662" y="884" width="11" height="2" fill="#22b822"/>
<rect x="662" y="831" width="11" height="2" fill="#00ffff"/>
<rect x="662" y="866" width="11" height="2" fill="#00ffff"/>
<rect x="674" y="813" width="11" height="2" fill="#22b822"/>
<rect x="674" y="884" width="11" height="2" fill="#22b822"/>
<rect x="674" y="831" width="11" height="2" fill="#00ffff"/>
<rect x="674" y="866" width="11" height="2" fill="#00ffff"/>
<rect x="686" y="813" width="11" height="2" fill="#ff0000"/>
<rect x="686" y="884" width="11" height="2" fill="#ff0000"/>
<rect x="686" y="831" width="11" height="2" fill="#00ffff"/>
<rect x="686" y="866" width="11" height="2" fill="#00ffff"/>
<rect x="698" y="813" width="11" height="2" fill="#ff0000"/>
<rect x="698" y="884" width="11" height="2" fill="#ff0000"/>
<rect x="698" y="831" width="11" height="2" fill="#00ffff"/>
<rect x="698" y="866" width="11" height="2" fill="#00ffff"/>
<rect x="710" y="813" width="11" height="2" fill="#ff0000"/>
<rect x="710" y="884" width="11" height="2" fill="#ff0000"/>
<rect x="710" y="831" width="11" height="2" fill="#00ffff"/>
<rect x="710" y="866" width="11" height="2" fill="#00ffff"/>
<rect x="722" y="813" width="11" height="2" fill="#ff0000"/>
<rect x="722" y="884" width="11" height="2" fill="#ff0000"/>
<rect x="722" y="831" width="11" height="2" fill="#00ffff"/>
<rect x="722" y="866" width="11" height="2" fill="#00ffff"/>
<rect x="734" y="813" width="11" height="2" fill="#ff0000"/>
<rect x="734" y="884" width="11" height="2" fill="#ff0000"/>
<rect x="734" y="831" width="11" height="2" fill="#00ffff"/>
<rect x="734" y="866" width="11" height="2" fill="#00ffff"/>
<rect x="19" y="837.3" width="1" height="13.7" fill="#0000ff"/>
<rect x="31" y="828.4" width="1" height="22.6" fill="#0000ff"/>
<rect x="43" y="829.5" width="1" height="21.5" fill="#0000ff"/>
<rect x="55" y="819.4" width="1" height="31.6" fill="#0000ff"/>
<rect x="67" y="825.4" width="1" height="25.6" fill="#0000ff"/>
<rect x="79" y="822.4" width="1" height="28.6" fill="#0000ff"/>
<rect x="91" y="826.6" width="1" height="24.4" fill="#0000ff"/>
<rect x="103" y="821.6" width="1" height="29.4" fill="#0000ff"/>
<rect x="115" y="816.4" width="1" height="34.6" fill="#0000ff"/>
<rect x="127" y="819.9" width="1" height="31.1" fill="#0000ff"/>
<rect x="139" y="823.4" width="1" height="27.6" fill="#0000ff"/>
<rect x="151" y="825.6" width="1" height="25.4" fill="#0000ff"/>
<rect x="163" y="827.6" width="1" height="23.4" fill="#0000ff"/>
<rect x="175" y="826.6" width="1" height="24.4" fill="#0000ff"/>
<rect x="187" y="820.4" width="1" height="30.6" fill="#0000ff"/>
<rect x="199" y="821.4" width="1" height="29.6" fill="#0000ff"/>
<rect x="211" y="820.4" width="1" height="30.6" fill="#0000ff"/>
<rect x="223" y="824.6" width="1" height="26.4" fill="#0000ff"/>
<rect x="235" y="819.4" width="1" height="31.6" fill="#0000ff"/>
<rect x="247" y="820.6" width="1" height="30.4" fill="#0000ff"/>
<rect x="259" y="820.6" width="1" height="30.4" fill="#0000ff"/>
<rect x="271" y="818.4" width="1" height="32.6" fill="#0000ff"/>
<rect x="283" y="819.6" width="1" height="31.4" fill="#0000ff"/>
<rect x="295" y="820.6" width="1" height="30.4" fill="#0000ff"/>
<rect x="307" y="822.6" width="1" height="28.4" fill="#0000ff"/>
<rect x="319" y="825.4" width="1" height="25.6" fill="#0000ff"/>
<rect x="331" y="827.6" width="1" height="23.4" fill="#0000ff"/>
<rect x="343" y="827.6" width="1" height="23.4" fill="#0000ff"/>
<rect x="355" y="825.6" width="1" height="25.4" fill="#0000ff"/>
<rect x="367" y="824.6" width="1" height="26.4" fill="#0000ff"/>
<rect x="379" y="823.3" width="1" height="27.7" fill="#0000ff"/>
<rect x="391" y="827.6" width="1" height="23.4" fill="#0000ff"/>
<rect x="403" y="827.6" width="1" height="23.4" fill="#0000ff"/>
<rect x="415" y="830.3" width="1" height="20.7" fill="#0000ff"/>
<rect x="427" y="830.3" width="1" height="20.7" fill="#0000ff"/>
<rect x="439" y="830.3" width="1" height="20.7" fill="#0000ff"/>
<rect x="451" y="827.6" width="1" height="23.4" fill="#0000ff"/>
<rect x="463" y="828.6" width="1" height="22.4" fill="#0000ff"/>
<rect x="475" y="828.6" width="1" height="22.4" fill="#0000ff"/>
<rect x="487" y="828.6" width="1" height="22.4" fill="#0000ff"/>
<rect x="499" y="832.3" width="1" height="18.7" fill="#0000ff"/>
<rect x="511" y="832.3" width="1" height="18.7" fill="#0000ff"/>
<rect x="523" y="830.3" width="1" height="20.7" fill="#0000ff"/>
<rect x="535" y="826.4" width="1" height="24.6" fill="#0000ff"/>
<rect x="547" y="825.4" width="1" height="25.6" fill="#0000ff"/>
<rect x="559" y="827.4" width="1" height="23.6" fill="#0000ff"/>
<rect x="571" y="828.3" width="1" height="22.7" fill="#0000ff"/>
<rect x="583" y="828.3" width="1" height="22.7" fill="#0000ff"/>
<rect x="595" y="830.0" width="1" height="21.0" fill="#0000ff"/>
<rect x="607" y="832.4" width="1" height="18.6" fill="#0000ff"/>
<rect x="619" y="830.6" width="1" height="20.4" fill="#0000ff"/>
<rect x="631" y="827.4" width="1" height="23.6" fill="#0000ff"/>
<rect x="643" y="827.1" width="1" height="23.9" fill="#0000ff"/>
<rect x="655" y="828.6" width="1" height="22.4" fill="#0000ff"/>
<rect x="667" y="829.5" width="1" height="21.5" fill="#0000ff"/>
<rect x="679" y="828.3" width="1" height="22.7" fill="#0000ff"/>
<rect x="691" y="835.6" width="1" height="15.4" fill="#0000ff"/>
<rect x="703" y="833.5" width="1" height="17.5" fill="#0000ff"/>
<rect x="715" y="839.6" width="1" height="11.4" fill="#0000ff"/>
<rect x="727" y="837.6" width="1" height="13.4" fill="#0000ff"/>
<rect x="739" y="832.7" width="1" height="18.3" fill="#0000ff"/>
</g>
<polyline points="0.0,870.8 7.5,864.0 19.5,847.3 31.5,834.3 43.5,836.6 55.5,824.6 67.5,832.3 79.5,827.4 91.5,833.3 103.5,829.6 115.5,825.6 127.5,830.8 139.5,835.3 151.5,838.3 163.5,840.3 175.5,840.3 187.5,835.3 199.5,835.2 211.5,835.3 223.5,838.6 235.5,830.6 247.5,829.4 259.5,827.4 271.5,824.6 283.5,827.4 295.5,827.4 307.5,833.3 319.5,839.3 331.5,842.6 343.5,841.3 355.5,836.6 367.5,832.3 379.5,828.6 391.5,838.0 403.5,837.3 415.5,847.8 427.5,844.5 439.5,843.3 451.5,824.6 463.5,825.6 475.5,825.6 487.5,822.4 499.5,848.3 511.5,841.6 523.5,829.4 535.5,806.4 547.5,810.4 559.5,820.4 571.5,826.0 583.5,825.7 595.5,830.6 607.5,842.5 619.5,836.4 631.5,825.4 643.5,828.3 655.5,831.5 667.5,834.4 679.5,831.5 691.5,856.2 703.5,850.6 715.5,870.4 727.5,861.4 739.5,842.5" fill="none" stroke="#228b22" stroke-width="1.2"/>
<polyline points="0.0,853.4 7.5,849.5 19.5,837.3 31.5,828.4 43.5,829.5 55.5,819.4 67.5,825.4 79.5,822.4 91.5,826.6 103.5,821.6 115.5,816.4 127.5,819.9 139.5,823.4 151.5,825.6 163.5,827.6 175.5,826.6 187.5,820.4 199.5,821.4 211.5,820.4 223.5,824.6 235.5,819.4 247.5,820.6 259.5,820.6 271.5,818.4 283.5,819.6 295.5,820.6 307.5,822.6 319.5,825.4 331.5,827.6 343.5,827.6 355.5,825.6 367.5,824.6 379.5,823.3 391.5,827.6 403.5,827.6 415.5,830.3 427.5,830.3 439.5,830.3 451.5,827.6 463.5,828.6 475.5,828.6 487.5,828.6 499.5,832.3 511.5,832.3 523.5,830.3 535.5,826.4 547.5,825.4 559.5,827.4 571.5,828.3 583.5,828.3 595.5,830.0 607.5,832.4 619.5,830.6 631.5,827.4 643.5,827.1 655.5,828.6 667.5,829.5 679.5,828.3 691.5,835.6 703.5,833.5 715.5,839.6 727.5,837.6 739.5,832.7" fill="none" stroke="#222" stroke-width="1.2"/>
<g shape-rendering="crispEdges">
<rect x="5" y="849" width="5" height="5" fill="#ff0000"/>
<rect x="6" y="851" width="3" height="1" fill="#fff"/>
<rect x="17" y="849" width="5" height="5" fill="#008000"/>
<rect x="18" y="851" width="3" height="1" fill="#fff"/><rect x="19" y="850" width="1" height="3" fill="#fff"/>
<rect x="29" y="849" width="5" height="5" fill="#008000"/>
<rect x="30" y="851" width="3" height="1" fill="#fff"/><rect x="31" y="850" width="1" height="3" fill="#fff"/>
<rect x="41" y="849" width="5" height="5" fill="#008000"/>
<rect x="42" y="851" width="3" height="1" fill="#fff"/><rect x="43" y="850" width="1" height="3" fill="#fff"/>
<rect x="53" y="849" width="5" height="5" fill="#008000"/>
<rect x="54" y="851" width="3" height="1" fill="#fff"/><rect x="55" y="850" width="1" height="3" fill="#fff"/>
<rect x="65" y="849" width="5" height="5" fill="#008000"/>
<rect x="66" y="851" width="3" height="1" fill="#fff"/><rect x="67" y="850" width="1" height="3" fill="#fff"/>
<rect x="77" y="849" width="5" height="5" fill="#008000"/>
<rect x="78" y="851" width="3" height="1" fill="#fff"/><rect x="79" y="850" width="1" height="3" fill="#fff"/>
<rect x="89" y="849" width="5" height="5" fill="#008000"/>
<rect x="90" y="851" width="3" height="1" fill="#fff"/><rect x="91" y="850" width="1" height="3" fill="#fff"/>
<rect x="101" y="849" width="5" height="5" fill="#008000"/>
<rect x="102" y="851" width="3" height="1" fill="#fff"/><rect x="103" y="850" width="1" height="3" fill="#fff"/>
<rect x="113" y="849" width="5" height="5" fill="#008000"/>
<rect x="114" y="851" width="3" height="1" fill="#fff"/><rect x="115" y="850" width="1" height="3" fill="#fff"/>
<rect x="125" y="849" width="5" height="5" fill="#008000"/>
<rect x="126" y="851" width="3" height="1" fill="#fff"/><rect x="127" y="850" width="1" height="3" fill="#fff"/>
<rect x="137" y="849" width="5" height="5" fill="#008000"/>
<rect x="138" y="851" width="3" height="1" fill="#fff"/><rect x="139" y="850" width="1" height="3" fill="#fff"/>
<rect x="149" y="849" width="5" height="5" fill="#008000"/>
<rect x="150" y="851" width="3" height="1" fill="#fff"/><rect x="151" y="850" width="1" height="3" fill="#fff"/>
<rect x="161" y="849" width="5" height="5" fill="#ff0000"/>
<rect x="162" y="851" width="3" height="1" fill="#fff"/>
<rect x="173" y="849" width="5" height="5" fill="#ff0000"/>
<rect x="174" y="851" width="3" height="1" fill="#fff"/>
<rect x="185" y="849" width="5" height="5" fill="#008000"/>
<rect x="186" y="851" width="3" height="1" fill="#fff"/><rect x="187" y="850" width="1" height="3" fill="#fff"/>
<rect x="197" y="849" width="5" height="5" fill="#ff0000"/>
<rect x="198" y="851" width="3" height="1" fill="#fff"/>
<rect x="209" y="849" width="5" height="5" fill="#ff0000"/>
<rect x="210" y="851" width="3" height="1" fill="#fff"/>
<rect x="221" y="849" width="5" height="5" fill="#ff0000"/>
<rect x="222" y="851" width="3" height="1" fill="#fff"/>
<rect x="233" y="849" width="5" height="5" fill="#ff0000"/>
<rect x="234" y="851" width="3" height="1" fill="#fff"/>
<rect x="245" y="849" width="5" height="5" fill="#ff0000"/>
<rect x="246" y="851" width="3" height="1" fill="#fff"/>
<rect x="257" y="849" width="5" height="5" fill="#ff0000"/>
<rect x="258" y="851" width="3" height="1" fill="#fff"/>
<rect x="269" y="849" width="5" height="5" fill="#ff0000"/>
<rect x="270" y="851" width="3" height="1" fill="#fff"/>
<rect x="281" y="849" width="5" height="5" fill="#ff0000"/>
<rect x="282" y="851" width="3" height="1" fill="#fff"/>
<rect x="293" y="849" width="5" height="5" fill="#ff0000"/>
<rect x="294" y="851" width="3" height="1" fill="#fff"/>
<rect x="305" y="849" width="5" height="5" fill="#ff0000"/>
<rect x="306" y="851" width="3" height="1" fill="#fff"/>
<rect x="317" y="849" width="5" height="5" fill="#ff0000"/>
<rect x="318" y="851" width="3" height="1" fill="#fff"/>
<rect x="329" y="849" width="5" height="5" fill="#ff0000"/>
<rect x="330" y="851" width="3" height="1" fill="#fff"/>
<rect x="341" y="849" width="5" height="5" fill="#ff0000"/>
<rect x="342" y="851" width="3" height="1" fill="#fff"/>
<rect x="353" y="849" width="5" height="5" fill="#ff0000"/>
<rect x="354" y="851" width="3" height="1" fill="#fff"/>
<rect x="365" y="849" width="5" height="5" fill="#ff0000"/>
<rect x="366" y="851" width="3" height="1" fill="#fff"/>
<rect x="377" y="849" width="5" height="5" fill="#008000"/>
<rect x="378" y="851" width="3" height="1" fill="#fff"/><rect x="379" y="850" width="1" height="3" fill="#fff"/>
<rect x="389" y="849" width="5" height="5" fill="#ff0000"/>
<rect x="390" y="851" width="3" height="1" fill="#fff"/>
<rect x="401" y="849" width="5" height="5" fill="#ff0000"/>
<rect x="402" y="851" width="3" height="1" fill="#fff"/>
<rect x="413" y="849" width="5" height="5" fill="#ff0000"/>
<rect x="414" y="851" width="3" height="1" fill="#fff"/>
<rect x="425" y="849" width="5" height="5" fill="#ff0000"/>
<rect x="426" y="851" width="3" height="1" fill="#fff"/>
<rect x="437" y="849" width="5" height="5" fill="#ff0000"/>
<rect x="438" y="851" width="3" height="1" fill="#fff"/>
<rect x="449" y="849" width="5" height="5" fill="#008000"/>
<rect x="450" y="851" width="3" height="1" fill="#fff"/><rect x="451" y="850" width="1" height="3" fill="#fff"/>
<rect x="461" y="849" width="5" height="5" fill="#008000"/>
<rect x="462" y="851" width="3" height="1" fill="#fff"/><rect x="463" y="850" width="1" height="3" fill="#fff"/>
<rect x="473" y="849" width="5" height="5" fill="#008000"/>
<rect x="474" y="851" width="3" height="1" fill="#fff"/><rect x="475" y="850" width="1" height="3" fill="#fff"/>
<rect x="485" y="849" width="5" height="5" fill="#008000"/>
<rect x="486" y="851" width="3" height="1" fill="#fff"/><rect x="487" y="850" width="1" height="3" fill="#fff"/>
<rect x="497" y="849" width="5" height="5" fill="#ff0000"/>
<rect x="498" y="851" width="3" height="1" fill="#fff"/>
<rect x="509" y="849" width="5" height="5" fill="#ff0000"/>
<rect x="510" y="851" width="3" height="1" fill="#fff"/>
<rect x="521" y="849" width="5" height="5" fill="#008000"/>
<rect x="522" y="851" width="3" height="1" fill="#fff"/><rect x="523" y="850" width="1" height="3" fill="#fff"/>
<rect x="533" y="849" width="5" height="5" fill="#008000"/>
<rect x="534" y="851" width="3" height="1" fill="#fff"/><rect x="535" y="850" width="1" height="3" fill="#fff"/>
<rect x="545" y="849" width="5" height="5" fill="#008000"/>
<rect x="546" y="851" width="3" height="1" fill="#fff"/><rect x="547" y="850" width="1" height="3" fill="#fff"/>
<rect x="557" y="849" width="5" height="5" fill="#008000"/>
<rect x="558" y="851" width="3" height="1" fill="#fff"/><rect x="559" y="850" width="1" height="3" fill="#fff"/>
<rect x="569" y="849" width="5" height="5" fill="#008000"/>
<rect x="570" y="851" width="3" height="1" fill="#fff"/><rect x="571" y="850" width="1" height="3" fill="#fff"/>
<rect x="581" y="849" width="5" height="5" fill="#008000"/>
<rect x="582" y="851" width="3" height="1" fill="#fff"/><rect x="583" y="850" width="1" height="3" fill="#fff"/>
<rect x="593" y="849" width="5" height="5" fill="#ff0000"/>
<rect x="594" y="851" width="3" height="1" fill="#fff"/>
<rect x="605" y="849" width="5" height="5" fill="#ff0000"/>
<rect x="606" y="851" width="3" height="1" fill="#fff"/>
<rect x="617" y="849" width="5" height="5" fill="#ff0000"/>
<rect x="618" y="851" width="3" height="1" fill="#fff"/>
<rect x="629" y="849" width="5" height="5" fill="#008000"/>
<rect x="630" y="851" width="3" height="1" fill="#fff"/><rect x="631" y="850" width="1" height="3" fill="#fff"/>
<rect x="641" y="849" width="5" height="5" fill="#008000"/>
<rect x="642" y="851" width="3" height="1" fill="#fff"/><rect x="643" y="850" width="1" height="3" fill="#fff"/>
<rect x="653" y="849" width="5" height="5" fill="#008000"/>
<rect x="654" y="851" width="3" height="1" fill="#fff"/><rect x="655" y="850" width="1" height="3" fill="#fff"/>
<rect x="665" y="849" width="5" height="5" fill="#008000"/>
<rect x="666" y="851" width="3" height="1" fill="#fff"/><rect x="667" y="850" width="1" height="3" fill="#fff"/>
<rect x="677" y="849" width="5" height="5" fill="#ff0000"/>
<rect x="678" y="851" width="3" height="1" fill="#fff"/>
<rect x="689" y="849" width="5" height="5" fill="#ff0000"/>
<rect x="690" y="851" width="3" height="1" fill="#fff"/>
<rect x="701" y="849" width="5" height="5" fill="#ff0000"/>
<rect x="702" y="851" width="3" height="1" fill="#fff"/>
<rect x="713" y="849" width="5" height="5" fill="#ff0000"/>
<rect x="714" y="851" width="3" height="1" fill="#fff"/>
<rect x="725" y="849" width="5" height="5" fill="#ff0000"/>
<rect x="726" y="851" width="3" height="1" fill="#fff"/>
<rect x="737" y="849" width="5" height="5" fill="#008000"/>
<rect x="738" y="851" width="3" height="1" fill="#fff"/><rect x="739" y="850" width="1" height="3" fill="#fff"/>
</g>
<g shape-rendering="crispEdges" fill="#000">
<rect x="748" y="0" width="1" height="903"/>
<rect x="0" y="632" width="802" height="1"/>
<rect x="0" y="703" width="802" height="1"/>
<rect x="0" y="795" width="802" height="1"/>
<rect x="0" y="902" width="749" height="1"/>
<rect x="236" y="903" width="1" height="5"/>
<rect x="500" y="903" width="1" height="5"/>
<rect x="728" y="903" width="1" height="5"/>
<rect x="749" y="40" width="6" height="1"/>
<rect x="749" y="89" width="6" height="1"/>
<rect x="749" y="139" width="6" height="1"/>
<rect x="749" y="189" width="6" height="1"/>
<rect x="749" y="239" width="6" height="1"/>
<rect x="749" y="289" width="6" height="1"/>
<rect x="749" y="339" width="6" height="1"/>
<rect x="749" y="389" width="6" height="1"/>
<rect x="749" y="439" width="6" height="1"/>
<rect x="749" y="488" width="6" height="1"/>
<rect x="749" y="538" width="6" height="1"/>
<rect x="749" y="588" width="6" height="1"/>
<rect x="749" y="640" width="6" height="1"/>
<rect x="749" y="685" width="6" height="1"/>
<rect x="749" y="815" width="6" height="1"/>
<rect x="749" y="851" width="6" height="1"/>
<rect x="749" y="886" width="6" height="1"/>
</g>
<g font-family="Liberation Sans, sans-serif" font-size="10.7" fill="#000">
<text x="756.5" y="44.5">400.00</text>
<text x="756.5" y="93.5">390.00</text>
<text x="756.5" y="143.5">380.00</text>
<text x="756.5" y="193.5">370.00</text>
<text x="756.5" y="243.5">360.00</text>
<text x="756.5" y="293.5">350.00</text>
<text x="756.5" y="343.5">340.00</text>
<text x="756.5" y="393.5">330.00</text>
<text x="756.5" y="443.5">320.00</text>
<text x="756.5" y="492.5">310.00</text>
<text x="756.5" y="542.5">300.00</text>
<text x="756.5" y="592.5">290.00</text>
<text x="756.5" y="644.5">100</text>
<text x="756.5" y="689.5">80</text>
<text x="756.5" y="819.5">200</text>
<text x="756.5" y="855.5">0</text>
<text x="756.5" y="890.5">-200</text>
<text x="226.8" y="918.8" font-size="11">Dec</text>
<text x="493.6" y="918.8" font-size="11">21</text>
<text x="719.8" y="918.8" font-size="11">Feb</text>
<text x="-14.2" y="918.8" font-size="11">Nov</text>
</g>
<path d="M749.5 10.0 L755.5 3.5 L791.5 3.5 L791.5 16.5 L755.5 16.5 Z" fill="#ff0000" stroke="#000" stroke-width="1"/>
<text x="757.3" y="13.8" font-family="Liberation Sans, sans-serif" font-size="10.7" fill="#fff">405.94</text>
<path d="M749.5 132.0 L755.5 125.5 L791.5 125.5 L791.5 138.5 L755.5 138.5 Z" fill="#000" stroke="#000" stroke-width="1"/>
<text x="757.3" y="135.8" font-family="Liberation Sans, sans-serif" font-size="10.7" fill="#fff">381.55</text>
<path d="M749.5 174.5 L755.5 168.0 L791.5 168.0 L791.5 181.0 L755.5 181.0 Z" fill="#000" stroke="#000" stroke-width="1"/>
<text x="757.3" y="178.3" font-family="Liberation Sans, sans-serif" font-size="10.7" fill="#fff">372.87</text>
<path d="M749.5 192.0 L755.5 185.5 L791.5 185.5 L791.5 198.5 L755.5 198.5 Z" fill="#32c832" stroke="#000" stroke-width="1"/>
<text x="757.3" y="195.8" font-family="Liberation Sans, sans-serif" font-size="10.7" fill="#000">369.38</text>
<path d="M749.5 340.0 L755.5 333.5 L791.5 333.5 L791.5 346.5 L755.5 346.5 Z" fill="#008000" stroke="#000" stroke-width="1"/>
<text x="757.3" y="343.8" font-family="Liberation Sans, sans-serif" font-size="10.7" fill="#fff">339.80</text>
<path d="M749.5 655.0 L755.5 648.5 L786.0 648.5 L786.0 661.5 L755.5 661.5 Z" fill="#008000" stroke="#000" stroke-width="1"/>
<text x="757.3" y="658.8" font-family="Liberation Sans, sans-serif" font-size="10.7" fill="#fff">93.31</text>
<path d="M749.5 678.0 L755.5 671.5 L778.5 671.5 L778.5 684.5 L755.5 684.5 Z" fill="#ff0000" stroke="#000" stroke-width="1"/>
<text x="757.3" y="681.8" font-family="Liberation Sans, sans-serif" font-size="10.7" fill="#fff">83.3</text>
<path d="M749.5 832.0 L755.5 825.5 L791.5 825.5 L791.5 838.5 L755.5 838.5 Z" fill="#000" stroke="#000" stroke-width="1"/>
<text x="757.3" y="835.8" font-family="Liberation Sans, sans-serif" font-size="10.7" fill="#fff">100.78</text>
<path d="M749.5 842.2 L755.5 836.2 L785.5 836.2 L785.5 848.2 L755.5 848.2 Z" fill="#008000" stroke="#000" stroke-width="1"/>
<text x="757.3" y="846.0" font-family="Liberation Sans, sans-serif" font-size="10.7" fill="#fff">45.15</text>
<defs><linearGradient id="eg" x1="0" y1="0" x2="0" y2="1"><stop offset="0" stop-color="#1c2216"/><stop offset="0.9" stop-color="#2a2a2a"/><stop offset="0.93" stop-color="#555"/><stop offset="0.95" stop-color="#999"/><stop offset="1" stop-color="#b0b0b0"/></linearGradient></defs>
<rect x="801.6" y="0" width="1.4" height="926" fill="url(#eg)"/>
</svg>
</body></html>
